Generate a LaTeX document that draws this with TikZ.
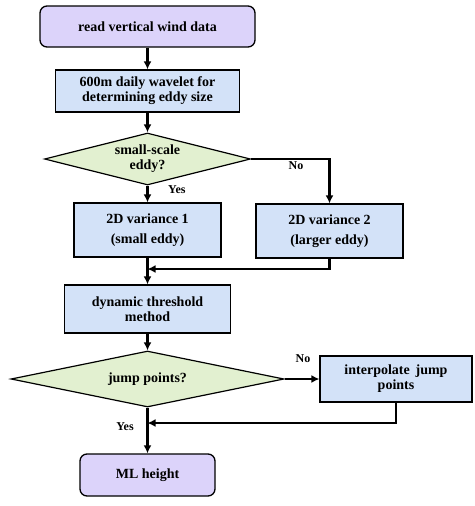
\documentclass[tikz,border=0pt]{standalone}
\usepackage{fontspec}
\setmainfont{Liberation Serif}
\usetikzlibrary{shapes.geometric,arrows.meta}

\definecolor{boxpurple}{HTML}{DCD3FA}
\definecolor{boxblue}{HTML}{D3E2F8}
\definecolor{boxgreen}{HTML}{E2F0D0}

\begin{document}
\begin{tikzpicture}[x=1pt,y=-1pt,
	every node/.style={font=\fontsize{14}{15}\selectfont\bfseries, align=center},
	startstop/.style={draw, rounded corners=7pt, fill=boxpurple, line width=1.3pt, inner sep=0pt},
	process/.style={draw, fill=boxblue, line width=1.2pt, inner sep=0pt},
	decision/.style={draw, diamond, aspect=5, fill=boxgreen, line width=1.2pt, inner sep=0pt},
	flow/.style={line width=2.4pt, -{Latex[length=8pt,width=8pt]}},
	answer/.style={font=\fontsize{12}{13}\selectfont\bfseries, inner sep=1pt}]

	\useasboundingbox (0,0) rectangle (474,506);

	% boxes
	\node[startstop, minimum width=215, minimum height=41] (read) 	at (147.5,26.5) {read vertical wind data};
	\node[process, minimum width=184, minimum height=42] (wavelet) 	at (147.5,91) {600m daily wavelet for\\determining eddy size};
	\node[decision, minimum width=206, minimum height=52] (small) 	at (147.5,159) {small-scale\\eddy?};
	\node[process, minimum width=147, minimum height=54] (var1) 	at (147.5,230) {2D variance 1\\[5pt](small eddy)};
	\node[process, minimum width=147, minimum height=54] (var2) 	at (329.5,231) {2D variance 2\\[5pt](larger eddy)};
	\node[process, minimum width=166, minimum height=48] (dyn) 	at (147.5,309) {dynamic threshold\\method};
	\node[decision, minimum width=273, minimum height=56] (jump) 	at (147.5,379) {jump points?};
	\node[process, minimum width=152, minimum height=46] (interp) 	at (396,379) {interpolate\, jump\\points};
	\node[startstop, minimum width=135, minimum height=42] (ml) 	at (147.5,475) {ML height};

	\coordinate (merge1) at (147.5,269);
	\coordinate (merge2) at (147.5,423);

	% arrows
	\draw[flow] (read.south) -- (wavelet.north);
	\draw[flow] (wavelet.south) -- (small.north);
	\draw[flow] (small.south) -- (var1.north);
	\node[answer, anchor=west] (yes1) at (167,190) {Yes};
	\draw[flow] (small.east) -| (var2.north);
	\node[answer] (no1) at (296,166) {No};
	\draw[flow] (var1.south) -- (dyn.north);
	\draw[flow] (var2.south) |- (merge1);
	\draw[flow] (dyn.south) -- (jump.north);
	\draw[flow] (jump.east) -- (interp.west);
	\node[answer] (no2) at (303,359) {No};
	\draw[flow] (interp.south) |- (merge2);
	\draw[flow] (jump.south) -- (ml.north);
	\node[answer] (yes2) at (125,427) {Yes};
\end{tikzpicture}
\end{document}
